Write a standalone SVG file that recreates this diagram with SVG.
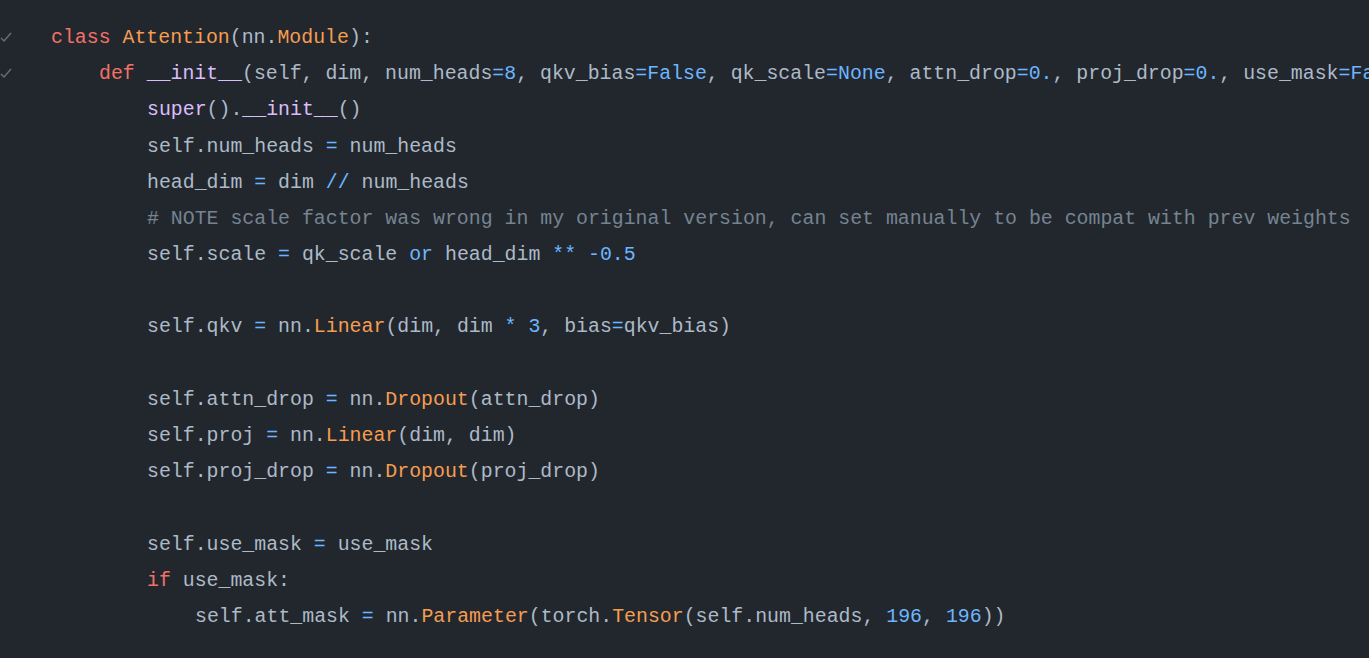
<svg xmlns="http://www.w3.org/2000/svg" width="1369" height="658" viewBox="0 0 1369 658">
<style>
text{font-family:"Liberation Mono","DejaVu Sans Mono",monospace;font-size:19.87px;fill:#adbac7;white-space:pre}
.k{fill:#f47067}.c{fill:#f69d50}.b{fill:#6cb6ff}.p{fill:#dcbdfb}.m{fill:#768390}
.ck{fill:none;stroke:#636e7b;stroke-width:1.5}
</style>
<rect width="1369" height="658" fill="#22272e"/>
<path class="ck" d="M1 38 l3 3 l7 -8"/>
<path class="ck" d="M1 74 l3 3 l7 -8"/>
<g id="code" xml:space="preserve">
<text x="51" y="43"><tspan class="k">class</tspan> <tspan class="c">Attention</tspan>(nn.<tspan class="c">Module</tspan>):</text>
<text x="99" y="79"><tspan class="k">def</tspan> <tspan class="p">__init__</tspan>(self, dim, num_heads<tspan class="b">=8</tspan>, qkv_bias<tspan class="b">=False</tspan>, qk_scale<tspan class="b">=None</tspan>, attn_drop<tspan class="b">=0.</tspan>, proj_drop<tspan class="b">=0.</tspan>, use_mask<tspan class="b">=Fa</tspan></text>
<text x="147" y="115"><tspan class="p">super</tspan>().<tspan class="p">__init__</tspan>()</text>
<text x="147" y="152">self.num_heads <tspan class="b">=</tspan> num_heads</text>
<text x="147" y="188">head_dim <tspan class="b">=</tspan> dim <tspan class="b">//</tspan> num_heads</text>
<text x="147" y="224" class="m"># NOTE scale factor was wrong in my original version, can set manually to be compat with prev weights</text>
<text x="147" y="260">self.scale <tspan class="b">=</tspan> qk_scale <tspan class="b">or</tspan> head_dim <tspan class="b">** -0.5</tspan></text>
<text x="147" y="332">self.qkv <tspan class="b">=</tspan> nn.<tspan class="c">Linear</tspan>(dim, dim <tspan class="b">*</tspan> <tspan class="b">3</tspan>, bias<tspan class="b">=</tspan>qkv_bias)</text>
<text x="147" y="405">self.attn_drop <tspan class="b">=</tspan> nn.<tspan class="c">Dropout</tspan>(attn_drop)</text>
<text x="147" y="441">self.proj <tspan class="b">=</tspan> nn.<tspan class="c">Linear</tspan>(dim, dim)</text>
<text x="147" y="477">self.proj_drop <tspan class="b">=</tspan> nn.<tspan class="c">Dropout</tspan>(proj_drop)</text>
<text x="147" y="550">self.use_mask <tspan class="b">=</tspan> use_mask</text>
<text x="147" y="586"><tspan class="k">if</tspan> use_mask:</text>
<text x="195" y="622">self.att_mask <tspan class="b">=</tspan> nn.<tspan class="c">Parameter</tspan>(torch.<tspan class="c">Tensor</tspan>(self.num_heads, <tspan class="b">196</tspan>, <tspan class="b">196</tspan>))</text>
</g>
</svg>
